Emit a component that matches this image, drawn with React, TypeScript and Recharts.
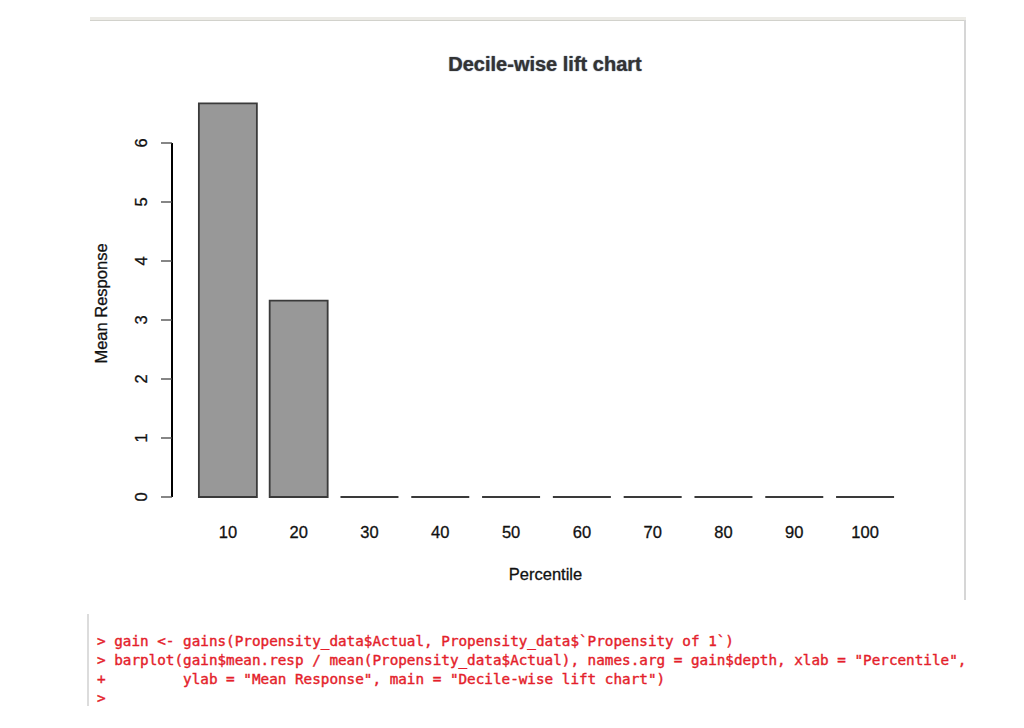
import React from 'react';
import { BarChart, Bar, XAxis, YAxis, ReferenceLine } from 'recharts';

const percentiles = ['10', '20', '30', '40', '50', '60', '70', '80', '90', '100'];
const meanResponse = [6.67, 3.33, 0, 0, 0, 0, 0, 0, 0, 0];
const yTicks = [0, 1, 2, 3, 4, 5, 6];
const titleText = 'Decile-wise lift chart';
const xLabelText = 'Percentile';
const yLabelText = 'Mean Response';
const consoleLines = [
  '> gain <- gains(Propensity_data$Actual, Propensity_data$`Propensity of 1`)',
  '> barplot(gain$mean.resp / mean(Propensity_data$Actual), names.arg = gain$depth, xlab = "Percentile",',
  '+         ylab = "Mean Response", main = "Decile-wise lift chart")',
  '>',
];

const data = percentiles.map((p, i) => ({ depth: p, lift: meanResponse[i] }));

const FONT = '"Liberation Sans", Arial, Helvetica, sans-serif';
const TEXT_STROKE = { stroke: '#111', strokeWidth: 0.3 };

const BarShape = (props: any) => {
  const { x, y, width, height } = props;
  if (x == null || y == null || width == null) return null;
  const h = height || 0;
  return (
    <path
      d={`M${x},${y}h${width}v${h}h${-width}Z`}
      fill="#989898"
      stroke="#3a3a3a"
      strokeWidth={1.8}
    />
  );
};

const YTick = (props: any) => {
  const { x, y, payload } = props;
  return (
    <text
      x={x}
      y={y}
      transform={`rotate(-90 ${x} ${y})`}
      textAnchor="middle"
      fontSize={16.5}
      fill="#111"
      fontFamily={FONT}
      {...TEXT_STROKE}
    >
      {payload.value}
    </text>
  );
};

const XTick = (props: any) => {
  const { x, y, payload } = props;
  return (
    <text
      x={x}
      y={y + 41}
      textAnchor="middle"
      fontSize={16.5}
      fill="#111"
      fontFamily={FONT}
      {...TEXT_STROKE}
    >
      {payload.value}
    </text>
  );
};

const XLabel = (props: any) => {
  const vb = props.viewBox || {};
  return (
    <text
      x={vb.x + vb.width / 2 - 1}
      y={vb.y + 83}
      textAnchor="middle"
      fontSize={16.5}
      fill="#111"
      fontFamily={FONT}
      {...TEXT_STROKE}
    >
      {xLabelText}
    </text>
  );
};

const YLabel = (props: any) => {
  const vb = props.viewBox || {};
  const cx = 107;
  const cy = vb.y + vb.height / 2 + 13;
  return (
    <text
      x={cx}
      y={cy}
      transform={`rotate(-90 ${cx} ${cy})`}
      textAnchor="middle"
      fontSize={16.5}
      fill="#111"
      fontFamily={FONT}
      {...TEXT_STROKE}
    >
      {yLabelText}
    </text>
  );
};

export default function App() {
  return (
    <div
      style={{
        position: 'absolute',
        left: 0,
        top: 0,
        width: 1024,
        height: 728,
        background: '#fff',
        overflow: 'hidden',
      }}
    >
      {/* window frame decorations */}
      <div style={{ position: 'absolute', left: 90, top: 17, width: 876, height: 3, background: '#ecebe6' }} />
      <div style={{ position: 'absolute', left: 90, top: 20, width: 876, height: 1, background: '#d2d2cc' }} />
      <div style={{ position: 'absolute', left: 964, top: 20, width: 2, height: 580, background: '#d6d6d6' }} />
      <div style={{ position: 'absolute', left: 87, top: 614, width: 2, height: 92, background: '#dcdcdc' }} />

      <div style={{ position: 'absolute', left: 0, top: 0 }}>
        <BarChart
          width={1024}
          height={728}
          data={data}
          margin={{ top: 84, right: 103, bottom: 191, left: 0 }}
          barCategoryGap="9%"
        >
          <XAxis
            dataKey="depth"
            axisLine={false}
            tickLine={false}
            tickSize={0}
            tickMargin={0}
            height={40}
            padding={{ left: 20.5, right: 20.5 }}
            tick={<XTick />}
            interval={0}
            label={<XLabel />}
          />
          <XAxis xAxisId="frame" type="number" domain={[0, 1]} hide />
          <YAxis
            type="number"
            domain={[0, 7]}
            ticks={yTicks}
            width={172}
            axisLine={false}
            tickLine={{ stroke: '#444', strokeWidth: 1.3 }}
            tickSize={11}
            tickMargin={14}
            tick={<YTick />}
            interval={0}
            label={<YLabel />}
          />
          <ReferenceLine
            xAxisId="frame"
            segment={[
              { x: 0, y: 0 },
              { x: 0, y: yTicks[yTicks.length - 1] },
            ]}
            stroke="#000"
            strokeWidth={2}
            ifOverflow="visible"
          />
          <Bar dataKey="lift" shape={<BarShape />} isAnimationActive={false} />
        </BarChart>
      </div>

      <div
        style={{
          position: 'absolute',
          left: 0,
          width: 1090,
          top: 54,
          textAlign: 'center',
          fontFamily: FONT,
          fontWeight: 'bold',
          fontSize: 20,
          lineHeight: '20px',
          color: '#333',
          textShadow: '0 0 1px #7f8aa3, 0 0 1px #7f8aa3',
        }}
      >
        {titleText}
      </div>

      <pre
        style={{
          position: 'absolute',
          left: 97,
          top: 632,
          margin: 0,
          fontFamily: '"DejaVu Sans Mono", "Liberation Mono", monospace',
          fontSize: 14.3,
          lineHeight: '19px',
          color: '#e41e2b',
          WebkitTextStroke: '0.4px #e41e2b',
        }}
      >
        {consoleLines.join('\n')}
      </pre>
    </div>
  );
}
